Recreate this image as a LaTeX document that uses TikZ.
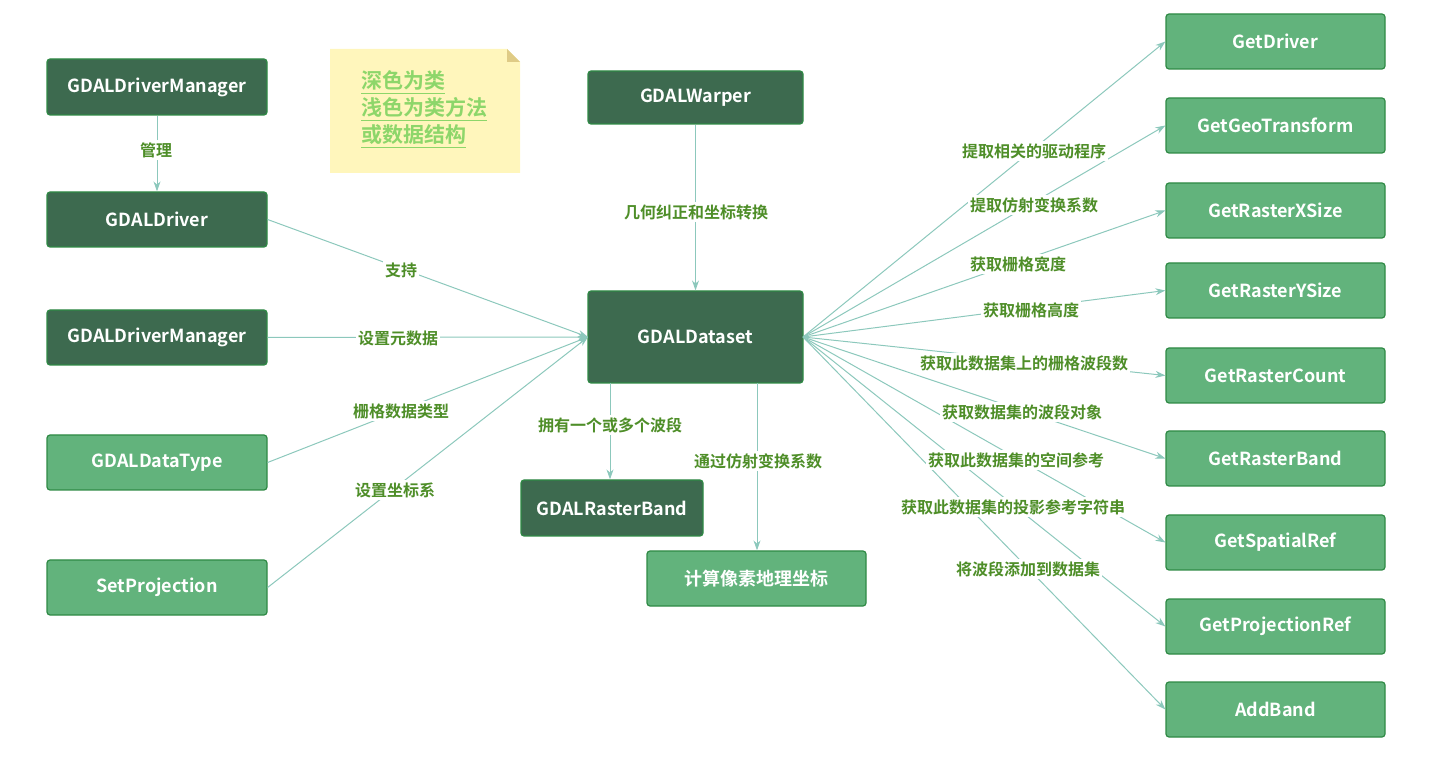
\documentclass[tikz,border=0pt]{standalone}
\usepackage{fontspec}
\setmainfont{Noto Sans CJK SC}[BoldFont={* Bold}]
\usetikzlibrary{arrows.meta}
\definecolor{dk}{HTML}{3D6A4F}
\definecolor{lt}{HTML}{62B37C}
\definecolor{bd}{HTML}{2F8A45}
\definecolor{ln}{HTML}{8CC8BC}
\definecolor{lb}{HTML}{4E8E28}
\definecolor{nt}{HTML}{FFF6BC}
\definecolor{ntx}{HTML}{8DD66A}
\definecolor{fold}{HTML}{DFCB86}
\begin{document}
\begin{tikzpicture}[x=0.5pt,y=-0.5pt,
  box/.style={draw=bd,line width=0.6pt,rounded corners=1.5pt,text=white,font=\fontsize{9}{10}\selectfont\bfseries,inner sep=0pt},
  dkbox/.style={box,fill=dk},
  ltbox/.style={box,fill=lt},
  conn/.style={draw=ln,line width=0.5pt,-{Stealth[length=5pt,width=3.5pt]}},
  lab/.style={fill=white,text=lb,font=\fontsize{8}{9}\selectfont\bfseries,inner sep=1pt}]
\useasboundingbox (0,0) rectangle (1437,759);
\newcommand{\bx}[6]{\node[#1,minimum width={(#4-#2)*0.5pt},minimum height={(#5-#3)*0.5pt}] (#6) at ({(#2+#4)/2},{(#3+#5)/2})}
\bx{dkbox}{47}{59}{267}{115}{dm1} {GDALDriverManager};
\bx{dkbox}{47}{192}{267}{247}{drv} {GDALDriver};
\bx{dkbox}{47}{310}{267}{365}{dm2} {GDALDriverManager};
\bx{ltbox}{47}{435}{267}{490}{dt} {GDALDataType};
\bx{ltbox}{47}{560}{267}{615}{sp} {SetProjection};
\bx{dkbox}{588}{71}{803}{124}{wp} {GDALWarper};
\bx{dkbox}{588}{291}{803}{383}{ds} {GDALDataset};
\bx{dkbox}{521}{480}{703}{536}{rb} {GDALRasterBand};
\bx{ltbox}{647}{551}{866}{606}{geo} {计算像素地理坐标};
\bx{ltbox}{1166}{14}{1385}{69}{r1} {GetDriver};
\bx{ltbox}{1166}{98}{1385}{153}{r2} {GetGeoTransform};
\bx{ltbox}{1166}{183}{1385}{238}{r3} {GetRasterXSize};
\bx{ltbox}{1166}{263}{1385}{318}{r4} {GetRasterYSize};
\bx{ltbox}{1166}{348}{1385}{403}{r5} {GetRasterCount};
\bx{ltbox}{1166}{431}{1385}{486}{r6} {GetRasterBand};
\bx{ltbox}{1166}{515}{1385}{570}{r7} {GetSpatialRef};
\bx{ltbox}{1166}{599}{1385}{654}{r8} {GetProjectionRef};
\bx{ltbox}{1166}{682}{1385}{737}{r9} {AddBand};
% note
\fill[nt] (330,49) -- (507,49) -- (520,62) -- (520,173) -- (330,173) -- cycle;
\fill[fold] (507,49) -- (520,62) -- (507,62) -- cycle;
\node[anchor=north west,align=left,text=ntx,font=\fontsize{10.5}{13.5}\selectfont\bfseries,inner sep=0pt] (note) at (361,70)
 {\underline{深色为类}\\\underline{浅色为类方法}\\\underline{或数据结构}};
% connectors
\coordinate (dsW) at (588,337);
\coordinate (dsE) at (803,337);
\draw[conn] (dm1.south) -- (drv.north);
\node[lab] (l0) at (156,150) {管理};
\draw[conn] (drv.east) -- (dsW);
\draw[conn] (dm2.east) -- (dsW);
\draw[conn] (dt.east) -- (dsW);
\draw[conn] (sp.east) -- (dsW);
\node[lab] at (401,270) {支持};
\node[lab] at (398,338) {设置元数据};
\node[lab] at (401,411) {栅格数据类型};
\node[lab] at (395,490) {设置坐标系};
\draw[conn] (wp.south) -- (ds.north);
\node[lab] at (696,212) {几何纠正和坐标转换};
\draw[conn] (610,383) -- (rb.north -| 610,0);
\draw[conn] (757,383) -- (geo.north -| 757,0);
\node[lab] at (610,425) {拥有一个或多个波段};
\node[lab] at (758,461) {通过仿射变换系数};
\foreach \r in {r1,r2,r3,r4,r5,r6,r7,r8,r9} \draw[conn] (dsE) -- (\r.west);
\node[lab] at (1034,151) {提取相关的驱动程序};
\node[lab] at (1034,205) {提取仿射变换系数};
\node[lab] at (1018,264) {获取栅格宽度};
\node[lab] at (1031,310) {获取栅格高度};
\node[lab] at (1024,363) {获取此数据集上的栅格波段数};
\node[lab] at (1022,412) {获取数据集的波段对象};
\node[lab] at (1016,460) {获取此数据集的空间参考};
\node[lab] at (1013,507) {获取此数据集的投影参考字符串};
\node[lab] at (1028,569) {将波段添加到数据集};
\end{tikzpicture}
\end{document}
